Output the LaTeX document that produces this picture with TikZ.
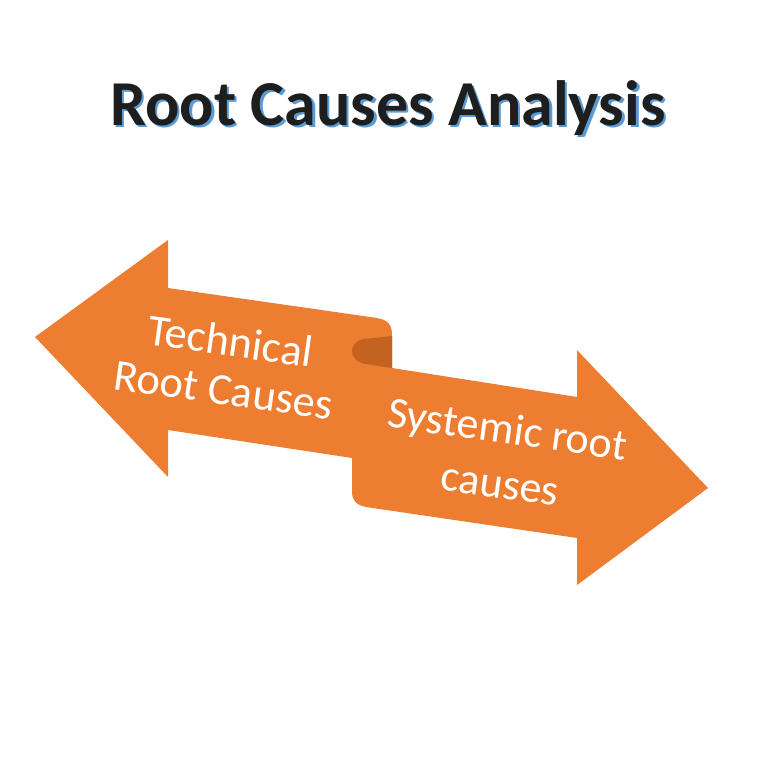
\documentclass[tikz,border=0pt]{standalone}
\usepackage{fontspec}
\setmainfont{Carlito}
\usepackage{tikz}
\definecolor{arroworange}{HTML}{ED7D31}
\definecolor{folddark}{HTML}{C4621F}
\definecolor{shadowblue}{HTML}{5B9BD5}
\definecolor{titleink}{HTML}{1E1E1E}
\tikzset{
  ribbon/.style={fill=arroworange,draw=none},
  arrowtext/.style={text=white,align=center,rotate=-8,inner sep=0pt},
  titletext/.style={anchor=base,inner sep=0pt,font=\fontsize{64}{70}\selectfont\bfseries}
}

\begin{document}
\begin{tikzpicture}[x=1pt,y=-1pt]
  \useasboundingbox[fill=white] (0,0) rectangle (768,768);

  % title with its blue shadow
  \node[titletext,text=shadowblue] (titleshadow) at (390.5,127.5) {Root Causes Analysis};
  \node[titletext,text=titleink] (title) at (388,125) {Root Causes Analysis};

  % the folded double arrow
  \fill[ribbon] (35,337) -- (168,240) -- (168,288) -- (377,318)
    .. controls (389,320) and (392,326) .. (392,335)
    -- (392,368) -- (577,397) -- (577,350) -- (708,488) -- (577,585)
    -- (577,538) -- (366,507)
    .. controls (356,505) and (352,500) .. (352,492)
    -- (352,458) -- (168,430) -- (168,477) -- cycle;
  \fill[folddark] (392,336) -- (364,339)
    .. controls (356,340) and (352,346) .. (352,351)
    .. controls (352,357) and (357,363) .. (366,364)
    -- (392,368) -- cycle;

  \node[arrowtext,font=\fontsize{44.5}{49}\selectfont] (technical) at (227,365) {Technical\\Root Causes};
  \node[arrowtext,font=\fontsize{44}{55}\selectfont] (systemic) at (504,456) {Systemic root\\causes};
\end{tikzpicture}
\end{document}
